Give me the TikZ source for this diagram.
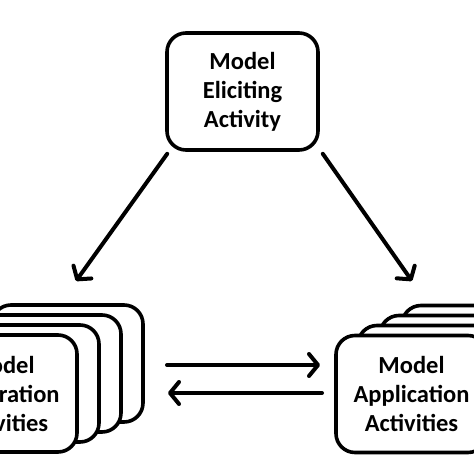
\documentclass[tikz,border=0pt]{standalone}
\usepackage{fontspec}
\setmainfont{Carlito}
\usetikzlibrary{arrows.meta}
\begin{document}
\begin{tikzpicture}[x=1pt,y=-1pt,
  mbox/.style={draw=black,line width=3.6pt,rounded corners=19pt,fill=white,
    minimum width=151pt,minimum height=117pt,inner sep=0pt,align=center,
    font=\fontsize{24.5}{29}\selectfont\bfseries},
  arr/.style={line width=4pt,-{Straight Barb[length=9pt,width=22pt,line cap=round,line join=round]},line cap=round}]
\useasboundingbox[fill=white] (0,0) rectangle (474,474);
% top
\node[mbox] (top) at (242.5,91.5) {Model\\Eliciting\\Activity};
% left stack
\node[mbox] (l3) at (67.5,363.5) {};
\node[mbox] (l2) at (45.5,373.5) {};
\node[mbox] (l1) at (23.5,383.5) {};
\node[mbox] (l0) at (1.5,393.5) {Model\\Exploration\\Activities};
% right stack
\node[mbox] (r3) at (477.5,364) {};
\node[mbox] (r2) at (455.5,374) {};
\node[mbox] (r1) at (433.5,384) {};
\node[mbox] (r0) at (411.5,394) {Model\\Application\\Activities};
% connectors
\coordinate (h1s) at (167,365);
\coordinate (h1e) at (320,365);
\coordinate (h2s) at (322,393);
\coordinate (h2e) at (168,393);
\coordinate (d1e) at (76,281);
\coordinate (d2e) at (412,281);
\draw[arr] (top.south west) ++(2,2) -- (d1e);
\draw[arr] (top.south east) ++(3,2) -- (d2e);
\draw[arr] (h1s) -- (h1e);
\draw[arr] (h2s) -- (h2e);
\end{tikzpicture}
\end{document}
